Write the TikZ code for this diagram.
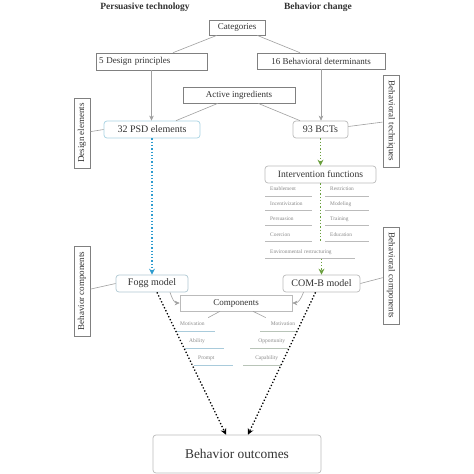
\documentclass[tikz,border=0pt]{standalone}
\usepackage{fontspec}
\setmainfont{Liberation Serif}
\usetikzlibrary{arrows.meta}

\definecolor{boxgray}{HTML}{808080}
\definecolor{softgray}{HTML}{BBBBBB}
\definecolor{linegray}{HTML}{A0A0A0}
\definecolor{psdblue}{HTML}{A8D3E3}
\definecolor{dotblue}{HTML}{2E9CCF}
\definecolor{dotgreen}{HTML}{6A9F3E}
\definecolor{txtgray}{HTML}{333333}
\definecolor{itemgray}{HTML}{8A8A8A}
\definecolor{ulblue}{HTML}{A9CBDB}
\definecolor{ulgray}{HTML}{B8C4B8}

\begin{document}
\begin{tikzpicture}[x=1pt,y=-1pt]
    \tikzstyle{every node}=[font=\fontsize{9}{11}\selectfont, text=txtgray]
    \tikzstyle{sqbox}=[draw=boxgray, line width=0.6pt, inner sep=0pt, minimum height=16pt]
    \tikzstyle{rbox}=[draw=softgray, line width=0.7pt, rounded corners=3pt, inner sep=0pt, minimum height=17pt, font=\fontsize{10}{12}\selectfont]
    \tikzstyle{sidebox}=[draw=boxgray, line width=0.6pt, inner sep=0pt, minimum height=16pt]
    \tikzstyle{conn}=[draw=linegray, line width=0.6pt]
    \tikzstyle{garrow}=[conn, -{Stealth[length=5pt,width=4.5pt,inset=1.5pt]}]
    \tikzstyle{dotarrow}=[line width=1.3pt, dotted, -{Stealth[length=6pt,width=6pt,inset=2pt]}]
    \tikzstyle{fitem}=[anchor=south west, font=\fontsize{5.4}{6}\selectfont, text=itemgray, text height=4pt, text depth=1pt, inner ysep=4pt, inner xsep=5pt, align=left]
    \tikzstyle{citem}=[fitem, font=\fontsize{5.5}{6}\selectfont, inner xsep=4pt, text width=31pt]
    \tikzstyle{uline}=[draw=softgray, line width=0.5pt]
    \fill[white] (0,0) rectangle (474,474);
    \useasboundingbox (0,0) rectangle (474,474);
    % draw titles
    \node[font=\bfseries\fontsize{9.5}{11}\selectfont] (ptitle) at (145,7) {Persuasive technology};
    \node[font=\bfseries\fontsize{9.5}{11}\selectfont] (btitle) at (318,7) {Behavior change};
    % draw boxes
    \node[sqbox, minimum width=56pt, minimum height=15pt] (cat) at (237,27.5) {Categories};
    \node[sqbox, minimum width=111pt, minimum height=17pt, text width=105pt, inner xsep=3pt, align=left] (dp) at (151.5,61.5) {5 Design principles};
    \node[sqbox, minimum width=128pt] (bd) at (321,61) {16 Behavioral determinants};
    \node[sqbox, minimum width=112pt] (ai) at (239,95) {Active ingredients};
    \node[rbox, draw=psdblue, minimum width=96pt] (psd) at (152,129.5) {32 PSD elements};
    \node[rbox, minimum width=55pt] (bct) at (320.5,129.5) {93 BCTs};
    \node[sidebox, rotate=90, minimum width=70pt] (de) at (82,133) {Design elements};
    \node[sidebox, rotate=-90, minimum width=92pt] (bt) at (391,121) {Behavioral techniques};
    \node[rbox, minimum width=111pt, font=\fontsize{9.6}{11}\selectfont] (ivf) at (320.5,174.5) {Intervention functions};
    \node[rbox, draw=psdblue!60!softgray, minimum width=72pt] (fogg) at (152,283.5) {Fogg model};
    \node[rbox, minimum width=77pt] (comb) at (321.5,283.5) {COM-B model};
    \node[sidebox, rotate=90, minimum width=90pt] (bc) at (82,291) {Behavior components};
    \node[sidebox, rotate=-90, minimum width=97pt] (bcr) at (391,275.5) {Behavioral components};
    \node[sqbox, draw=softgray, minimum width=112pt] (comp) at (236,303) {Components};
    \node[rbox, minimum width=168pt, minimum height=38pt, font=\fontsize{13.4}{16}\selectfont] (out) at (237,454) {Behavior outcomes};
    % intervention function list
    \node[fitem, text width=37pt] (en) at (265,196) {Enablement};
    \node[fitem, text width=37pt] (inc) at (265,210.7) {Incentivization};
    \node[fitem, text width=37pt] (pe) at (265,225.7) {Persuasion};
    \node[fitem, text width=37pt] (co) at (265,241.3) {Coercion};
    \node[fitem, text width=34pt] (re) at (325,196) {Restriction};
    \node[fitem, text width=34pt] (mo) at (325,210.7) {Modeling};
    \node[fitem, text width=34pt] (tr) at (325,225.7) {Training};
    \node[fitem, text width=34pt] (ed) at (325,241.3) {Education};
    \node[fitem, text width=80pt] (er) at (265,258.5) {Environmental restructuring};
    \draw[uline] (en.south west) -- (en.south east);
    \draw[uline] (inc.south west) -- (inc.south east);
    \draw[uline] (pe.south west) -- (pe.south east);
    \draw[uline] (co.south west) -- (co.south east);
    \draw[uline] (re.south west) -- (re.south east);
    \draw[uline] (mo.south west) -- (mo.south east);
    \draw[uline] (tr.south west) -- (tr.south east);
    \draw[uline] (ed.south west) -- (ed.south east);
    \draw[uline] (er.south west) -- (er.south east);
    % component lists
    \node[citem] (lmo) at (176,331) {Motivation};
    \node[citem] (lab) at (185,348) {Ability};
    \node[citem] (lpr) at (194,365) {Prompt};
    \node[citem, align=right, inner xsep=3pt, text width=32pt] (rmo) at (260,331) {Motivation};
    \node[citem, align=right, inner xsep=3pt, text width=32pt] (rop) at (250,348) {Opportunity};
    \node[citem, align=right, inner xsep=3pt, text width=32pt] (rca) at (243,365) {Capability};
    \draw[uline, draw=ulblue] (lmo.south west) -- (lmo.south east);
    \draw[uline, draw=ulblue] (lab.south west) -- (lab.south east);
    \draw[uline, draw=ulblue] (lpr.south west) -- (lpr.south east);
    \draw[uline, draw=ulgray] (rmo.south west) -- (rmo.south east);
    \draw[uline, draw=ulgray] (rop.south west) -- (rop.south east);
    \draw[uline, draw=ulgray] (rca.south west) -- (rca.south east);
    % draw gray connectors
    \draw[conn] ([xshift=-20pt]cat.south) -- ([xshift=21.5pt]dp.north);
    \draw[conn] ([xshift=20pt]cat.south) -- ([xshift=-21pt]bd.north);
    \draw[garrow] (dp.south) -- (dp.south |- psd.north);
    \draw[garrow] (bd.south) -- (bd.south |- bct.north);
    \draw[conn] ([xshift=-21pt]ai.south) -- ([xshift=24pt]psd.north);
    \draw[conn] ([xshift=19pt]ai.south) -- ([xshift=-20.5pt]bct.north);
    \draw[conn] (psd.west) -- (de);
    \draw[conn] ([yshift=3pt]bct.east) -- (bt);
    \draw[conn] (fogg.west) -- (bc);
    \draw[conn] (comb.east) -- (bcr);
    \draw[garrow] ([xshift=18pt]fogg.south) to[out=-70,in=180] (comp.west);
    \draw[garrow] ([xshift=-18pt]comb.south) to[out=-110,in=0] (comp.east);
    \draw[conn] ([xshift=-16pt]comp.south) -- ([xshift=12.5pt]lmo.north);
    \draw[conn] ([xshift=17pt]comp.south) -- ([xshift=-13.5pt]rmo.north);
    % draw dotted arrows
    \draw[dotarrow, dotblue] (psd.south) -- (fogg.north);
    \draw[dotarrow, dotgreen] (bct.south) -- (bct.south |- ivf.north);
    \draw[line width=1.3pt, dotted, dotgreen] (ivf.south) -- (ivf.south |- co.south);
    \draw[dotarrow, dotgreen] (comb.north |- er.south) -- (comb.north);
    \draw[dotarrow, black] ([xshift=5pt]fogg.south) -- ([xshift=-11pt]out.north);
    \draw[dotarrow, black] ([xshift=-6pt]comb.south) -- ([xshift=11pt]out.north);
\end{tikzpicture}
\end{document}
